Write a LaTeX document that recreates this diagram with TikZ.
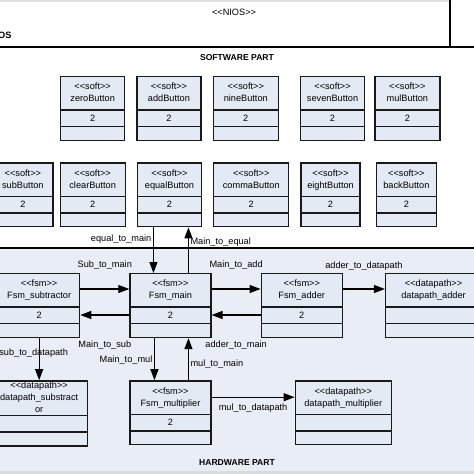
\documentclass[tikz,border=0pt]{standalone}
\usepackage{fontspec}
\setmainfont{Liberation Sans}
\usepackage{xcolor}
\usetikzlibrary{shapes.multipart,arrows.meta,positioning}

\definecolor{boxblue}{HTML}{E3EAF4}
\definecolor{hwblue}{HTML}{E8EDF6}

% stereotype brackets, kept apart so no guillemet ligature forms
\newcommand{\stl}{\textless\kern0pt\textless}
\newcommand{\str}{\textgreater\kern0pt\textgreater}
% class compartments: header, value row, empty row
\newcommand{\chead}[2]{\rule{0pt}{12.5pt}\stl#1\str\\#2\rule[-7.5pt]{0pt}{7.5pt}}
\newcommand{\crow}[1]{\rule[-5pt]{0pt}{15.5pt}#1}
\newcommand{\cbody}[3]{\chead{#1}{#2}\nodepart{two}\crow{#3}\nodepart{three}\rule{0pt}{12.5pt}}

\begin{document}
\begin{tikzpicture}[
  x=1pt, y=-1pt,
  >={Triangle[length=11pt,width=8pt]},
  font=\fontsize{9.2}{12}\selectfont,
  classbox/.style={rectangle split, rectangle split parts=3, draw=black!90, line width=1.3pt,
    fill=boxblue, inner xsep=0pt, inner ysep=0pt, text width=#1, align=center},
  classbox/.default=64pt,
  arrow/.style={->, line width=1.2pt},
  lbl/.style={inner sep=1.5pt},
  title/.style={font=\fontsize{8.6}{10}\selectfont\bfseries}
]
\useasboundingbox (0,0) rectangle (474,474);
\clip (0,0) rectangle (474,474);

% NIOS PART
\fill[black!12] (0,0) rectangle (450,2);
\draw[line width=1.2pt] (450,0) -- (450,47);
\draw[line width=1.2pt] (0,47) -- (474,47);
\node (nios)     at (234,12) {\stl NIOS\str};
\node (niosname) [title, anchor=east, font=\fontsize{9.2}{12}\selectfont\bfseries] at (15,35) {NIOS};

% HARDWARE BACKGROUND
\fill[hwblue] (0,248) rectangle (474,474);
\fill[black!14] (0,471) rectangle (474,474);
\draw[line width=1.2pt] (0,248) -- (474,248);

\node (sw) [title] at (237,58)  {SOFTWARE PART};
\node (hw) [title] at (237,463) {HARDWARE PART};

% SOFT BUTTONS, FIRST ROW
\node (zerobtn)  [classbox, anchor=north west] at (60,76) {\cbody{soft}{zeroButton}{2}};
\node (addbtn)   [classbox, right=11pt of zerobtn]        {\cbody{soft}{addButton}{2}};
\node (ninebtn)  [classbox=65pt, right=11pt of addbtn]    {\cbody{soft}{nineButton}{2}};
\node (sevenbtn) [classbox, right=21pt of ninebtn]        {\cbody{soft}{sevenButton}{2}};
\node (mulbtn)   [classbox=65pt, right=9pt of sevenbtn]   {\cbody{soft}{mulButton}{2}};

% SOFT BUTTONS, SECOND ROW
\node (clearbtn) [classbox=65pt, below=21pt of zerobtn]   {\cbody{soft}{clearButton}{2}};
\node (subbtn)   [classbox=60pt, left=6pt of clearbtn]    {\cbody{soft}{subButton}{2}};
\node (equalbtn) [classbox, right=11pt of clearbtn]       {\cbody{soft}{equalButton}{2}};
\node (commabtn) [classbox=75pt, right=11pt of equalbtn]  {\cbody{soft}{commaButton}{2}};
\node (eightbtn) [classbox=59pt, right=11pt of commabtn]  {\cbody{soft}{eightButton}{2}};
\node (backbtn)  [classbox=60pt, right=15pt of eightbtn]  {\cbody{soft}{backButton}{2}};

% FSM LAYER
\node (fsmsub)  [classbox=81pt, anchor=north west] at (-2,273) {\cbody{fsm}{Fsm\_subtractor}{2}};
\node (fsmmain) [classbox=81pt, right=49pt of fsmsub]  {\cbody{fsm}{Fsm\_main}{2}};
\node (fsmadd)  [classbox=81pt, right=49pt of fsmmain] {\cbody{fsm}{Fsm\_adder}{2}};
\node (dpadd)   [classbox=96pt, right=42pt of fsmadd]  {\cbody{datapath}{datapath\_adder}{}};

% DATAPATH LAYER
\node (dpsub)  [classbox=96pt, below=42pt of fsmsub]
      {\rule{0pt}{6.5pt}\stl datapath\str\\datapath\_substract\\or\rule[-2.5pt]{0pt}{2.5pt}%
       \nodepart{two}\crow{}\nodepart{three}\rule{0pt}{12.5pt}};
\node (fsmmul) [classbox=81pt, below=42pt of fsmmain] {\cbody{fsm}{Fsm\_multiplier}{2}};
\node (dpmul)  [classbox=96pt, right=83pt of fsmmul]  {\cbody{datapath}{datapath\_multiplier}{}};

\draw[arrow] ([xshift=-16pt]equalbtn.south) -- node[lbl, left, pos=0.25] {equal\_to\_main}
             ([xshift=-16pt]equalbtn.south |- fsmmain.north);
\draw[arrow] ([xshift=18pt]fsmmain.north) -- node[lbl, right, pos=0.67] {Main\_to\_equal}
             ([xshift=18pt]fsmmain.north |- equalbtn.south);
\draw[arrow] ([yshift=-16pt]fsmsub.north east)  -- node[lbl, above=18pt] {Sub\_to\_main}
             ([yshift=-16pt]fsmmain.north west);
\draw[arrow] ([yshift=-42pt]fsmmain.north west) -- node[lbl, below=24pt] {Main\_to\_sub}
             ([yshift=-42pt]fsmsub.north east);
\draw[arrow] ([yshift=-16pt]fsmmain.north east) -- node[lbl, above=18pt] {Main\_to\_add}
             ([yshift=-16pt]fsmadd.north west);
\draw[arrow] ([yshift=-42pt]fsmadd.north west)  -- node[lbl, below=24pt] {adder\_to\_main}
             ([yshift=-42pt]fsmmain.north east);
\draw[arrow] ([yshift=-16pt]fsmadd.north east)  -- node[lbl, above=16pt] {adder\_to\_datapath}
             ([yshift=-16pt]dpadd.north west);
\draw[arrow] (fsmsub.south) -- node[lbl, pos=0.36, xshift=-5.5pt] {sub\_to\_datapath}
             (fsmsub.south |- dpsub.north);
\draw[arrow] ([xshift=-16pt]fsmmain.south) -- node[lbl, left, pos=0.52] {Main\_to\_mul}
             ([xshift=-16pt]fsmmain.south |- fsmmul.north);
\draw[arrow] ([xshift=18pt]fsmmul.north) -- node[lbl, right, pos=0.38] {mul\_to\_main}
             ([xshift=18pt]fsmmul.north |- fsmmain.south);
\draw[arrow] ([yshift=-17pt]fsmmul.north east) -- node[lbl, below=5pt] {mul\_to\_datapath}
             ([yshift=-17pt]fsmmul.north east -| dpmul.west);
\end{tikzpicture}
\end{document}
